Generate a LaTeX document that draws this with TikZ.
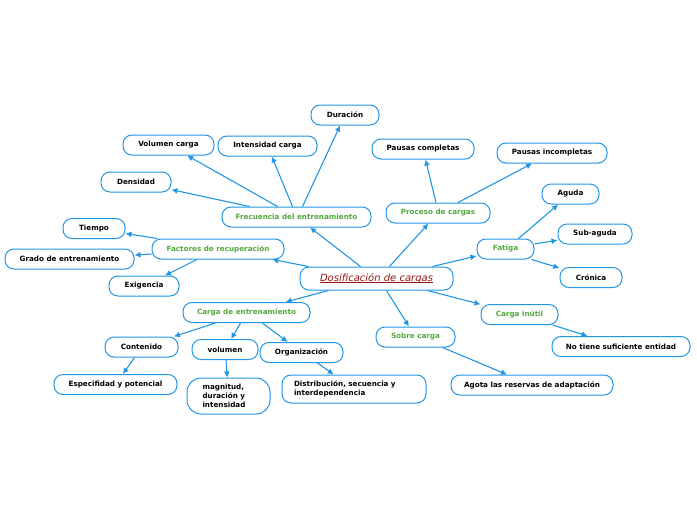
\documentclass[tikz,border=0pt]{standalone}
\usepackage{fontspec}
\setmainfont{DejaVu Sans}
\usepackage{tikz}
\usetikzlibrary{arrows.meta,positioning}
\definecolor{mapblue}{RGB}{33,150,228}
\definecolor{mapgreen}{RGB}{80,170,60}
\definecolor{mapred}{RGB}{150,20,20}
\tikzstyle{arrow} = [draw=mapblue, line width=1.1pt, -{Latex[length=6pt,width=6pt]}, mapblue]
\newsavebox{\mapbox}
\newcommand{\mapunderline}[1]{\sbox{\mapbox}{#1}\rlap{\rule[-1.5pt]{\wd\mapbox}{0.6pt}}\usebox{\mapbox}}

\begin{document}
\begin{tikzpicture}[x=1pt,y=-1pt]
\tikzset{%
	topic/.style = { rectangle, rounded corners=9pt, draw=mapblue, line width=1pt, fill=white, minimum height=20pt, inner sep=2pt, font=\fontsize{7.2}{9}\selectfont\bfseries, text centered},
	main/.style = { topic, text=mapgreen },
	central/.style = { topic, minimum height=23pt, font=\fontsize{10}{12}\selectfont\itshape, text=mapred }
}
\useasboundingbox (0,0) rectangle (697,520);

\node(Root)			[central, minimum width=153pt] at (376.5,278.5)
								{\mapunderline{Dosificación de cargas}};

\node(Frecuencia)	[main, minimum width=149pt] at (296.5,217)
								{Frecuencia del entrenamiento};
\node(Densidad)		[topic, minimum width=70pt] at (136,182)
								{Densidad};
\node(VolCarga)		[topic, minimum width=91pt] at (168.5,145)
								{Volumen carga};
\node(IntCarga)		[topic, minimum width=99pt] at (267.5,146)
								{Intensidad carga};
\node(Duracion)		[topic, minimum width=68pt] at (345,115)
								{Duración};

\node(Proceso)		[main, minimum width=104pt] at (438,213)
								{Proceso de cargas};
\node(PausasC)		[topic, minimum width=102pt] at (423,149)
								{Pausas completas};
\node(PausasI)		[topic, minimum width=110pt] at (552,153)
								{Pausas incompletas};

\node(Fatiga)		[main, minimum width=57pt] at (505.5,249)
								{Fatiga};
\node(Aguda)			[topic, minimum width=57pt] at (570.5,194)
								{Aguda};
\node(SubAguda)		[topic, minimum width=74pt] at (595,234)
								{Sub-aguda};
\node(Cronica)		[topic, minimum width=62pt] at (591,277.5)
								{Crónica};

\node(Factores)		[main, minimum width=132pt] at (218,249)
								{Factores de recuperación};
\node(Tiempo)		[topic, minimum width=62pt] at (94,228.5)
								{Tiempo};
\node(Grado)			[topic, minimum width=129pt] at (69.5,259)
								{Grado de entrenamiento};
\node(Exigencia)		[topic, minimum width=70pt] at (144,286)
								{Exigencia};

\node(Carga)			[main, minimum width=127pt] at (246.5,312.5)
								{Carga de entrenamiento};
\node(Contenido)		[topic, minimum width=73pt] at (141.5,347)
								{Contenido};
\node(Volumen)		[topic, minimum width=66pt] at (225,349.5)
								{volumen};
\node(Organiz)		[topic, minimum width=83pt] at (301.5,352.5)
								{Organización};
\node(Especif)		[topic, minimum width=123pt] at (115.5,384.5)
								{Especifidad y potencial};
\node(Magnitud)		[topic, minimum width=83pt, minimum height=36pt, rounded corners=14pt, text width=52pt, align=left] at (228.5,396)
								{magnitud,\\duración y\\intensidad};
\node(Distrib)		[topic, minimum width=144pt, minimum height=28pt, text width=120pt, align=left] at (354,389)
								{Distribución, secuencia y\\interdependencia};

\node(Sobre)			[main, minimum width=79pt] at (415.5,337)
								{Sobre carga};
\node(Agota)			[topic, minimum width=162pt] at (532,385)
								{Agota las reservas de adaptación};

\node(Inutil)			[main, minimum width=77pt] at (519.5,314.5)
								{Carga inútil};
\node(NoTiene)		[topic, minimum width=138pt] at (621,346.5)
								{No tiene suficiente entidad};

% central topic
\draw [arrow]	([xshift=-16pt]Root.north) -- (Frecuencia);
\draw [arrow]	([xshift=13pt]Root.north) -- (Proceso);
\draw [arrow]	([xshift=56pt]Root.north) -- (Fatiga);
\draw [arrow]	([xshift=-68pt]Root.north) -- (Factores);
\draw [arrow]	([xshift=-48pt]Root.south) -- (Carga);
\draw [arrow]	([xshift=10pt]Root.south) -- (Sobre);
\draw [arrow]	([xshift=51pt]Root.south) -- (Inutil);

\draw [arrow]	([xshift=-47pt]Frecuencia.north) -- (Densidad);
\draw [arrow]	([xshift=-19pt]Frecuencia.north) -- (VolCarga);
\draw [arrow]	([xshift=-4pt]Frecuencia.north) -- (IntCarga);
\draw [arrow]	([xshift=6pt]Frecuencia.north) -- (Duracion);

\draw [arrow]	([xshift=-2pt]Proceso.north) -- (PausasC);
\draw [arrow]	([xshift=20pt]Proceso.north) -- (PausasI);

\draw [arrow]	([xshift=13pt]Fatiga.north) -- (Aguda);
\draw [arrow]	([yshift=5pt]Fatiga.east) -- (SubAguda);
\draw [arrow]	([xshift=26pt]Fatiga.south) -- (Cronica);

\draw [arrow]	([xshift=-61pt]Factores.north) -- (Tiempo);
\draw [arrow]	([yshift=-5pt]Factores.west) -- (Grado);
\draw [arrow]	([xshift=-21pt]Factores.south) -- (Exigencia);

\draw [arrow]	([xshift=-31pt]Carga.south) -- (Contenido);
\draw [arrow]	([xshift=-6pt]Carga.south) -- (Volumen);
\draw [arrow]	([xshift=16pt]Carga.south) -- (Organiz);
\draw [arrow]	([xshift=-7pt]Contenido.south) -- (Especif);
\draw [arrow]	([xshift=1pt]Volumen.south) -- (Magnitud);
\draw [arrow]	([xshift=16pt]Organiz.south) -- (Distrib);

\draw [arrow]	([xshift=27pt]Sobre.south) -- (Agota);
\draw [arrow]	([xshift=33pt]Inutil.south) -- (NoTiene);

\end{tikzpicture}
\end{document}
